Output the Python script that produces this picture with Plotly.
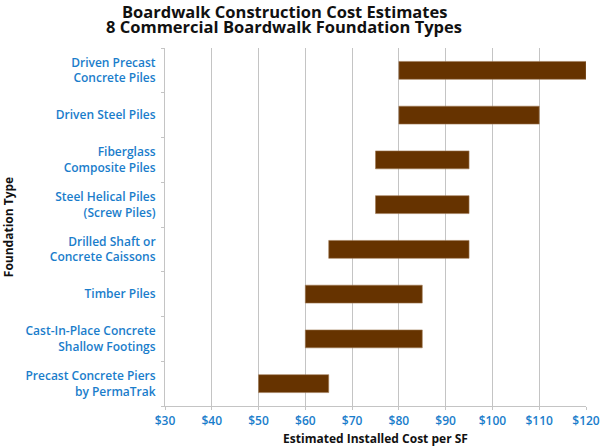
import plotly.graph_objects as go

foundation_types = [
    "Driven Precast<br>Concrete Piles",
    "Driven Steel Piles",
    "Fiberglass<br>Composite Piles",
    "Steel Helical Piles<br>(Screw Piles)",
    "Drilled Shaft or<br>Concrete Caissons",
    "Timber Piles",
    "Cast-In-Place Concrete<br>Shallow Footings",
    "Precast Concrete Piers<br>by PermaTrak",
]
cost_low = [80, 80, 75, 75, 65, 60, 60, 50]
cost_high = [120, 110, 95, 95, 95, 85, 85, 65]
tick_vals = [30, 40, 50, 60, 70, 80, 90, 100, 110, 120]
tick_text = ["$%d" % v for v in tick_vals]
title_lines = ["Boardwalk Construction Cost Estimates",
               "8 Commercial Boardwalk Foundation Types"]

blue = "#1a7dcb"
grid = "#c4c4c4"
font_family = "Open Sans, Noto Sans, sans-serif"

fig = go.Figure()
fig.add_trace(go.Bar(
    y=foundation_types,
    x=[h - l for l, h in zip(cost_low, cost_high)],
    base=cost_low,
    orientation="h",
    width=0.4,
    marker=dict(color="#663300", line=dict(color="#a07a56", width=0.6)),
    hoverinfo="skip",
))

# two title lines as annotations so the line spacing stays tight
for line, shift in zip(title_lines, [37, 22]):
    fig.add_annotation(
        text=line, xref="paper", yref="paper", x=0.283, y=1,
        xanchor="center", yanchor="middle", yshift=shift, showarrow=False,
        font=dict(family=font_family, size=16.5, color="#111111", weight=700),
    )

fig.update_layout(
    width=600,
    height=447,
    margin=dict(l=165, r=14, t=48, b=41),
    plot_bgcolor="white",
    paper_bgcolor="white",
    showlegend=False,
    font=dict(family=font_family),
)

fig.update_xaxes(
    range=[30, 120],
    tickvals=tick_vals,
    ticktext=tick_text,
    tickfont=dict(color=blue, size=12, weight=600),
    showgrid=True,
    gridcolor=grid,
    gridwidth=1,
    zeroline=False,
    showline=True,
    linecolor=grid,
    ticks="outside",
    ticklen=3,
    tickcolor=grid,
    ticklabelstandoff=1,
    automargin=False,
    title=dict(text="Estimated Installed Cost per SF", standoff=7,
               font=dict(size=12, color="#111111", weight=700)),
)

fig.update_yaxes(
    categoryorder="array",
    categoryarray=foundation_types[::-1],
    tickfont=dict(color=blue, size=12, weight=600),
    showline=True,
    linecolor=grid,
    linewidth=1,
    ticks="outside",
    tickson="boundaries",
    ticklen=3,
    tickcolor=grid,
    ticklabelstandoff=6,
    showgrid=False,
    automargin=False,
    title=dict(text="Foundation Type", standoff=33,
               font=dict(size=12, color="#111111", weight=700)),
)

fig.write_html("out.html", config={"displayModeBar": False},
               post_script="document.body.style.margin='0';")
